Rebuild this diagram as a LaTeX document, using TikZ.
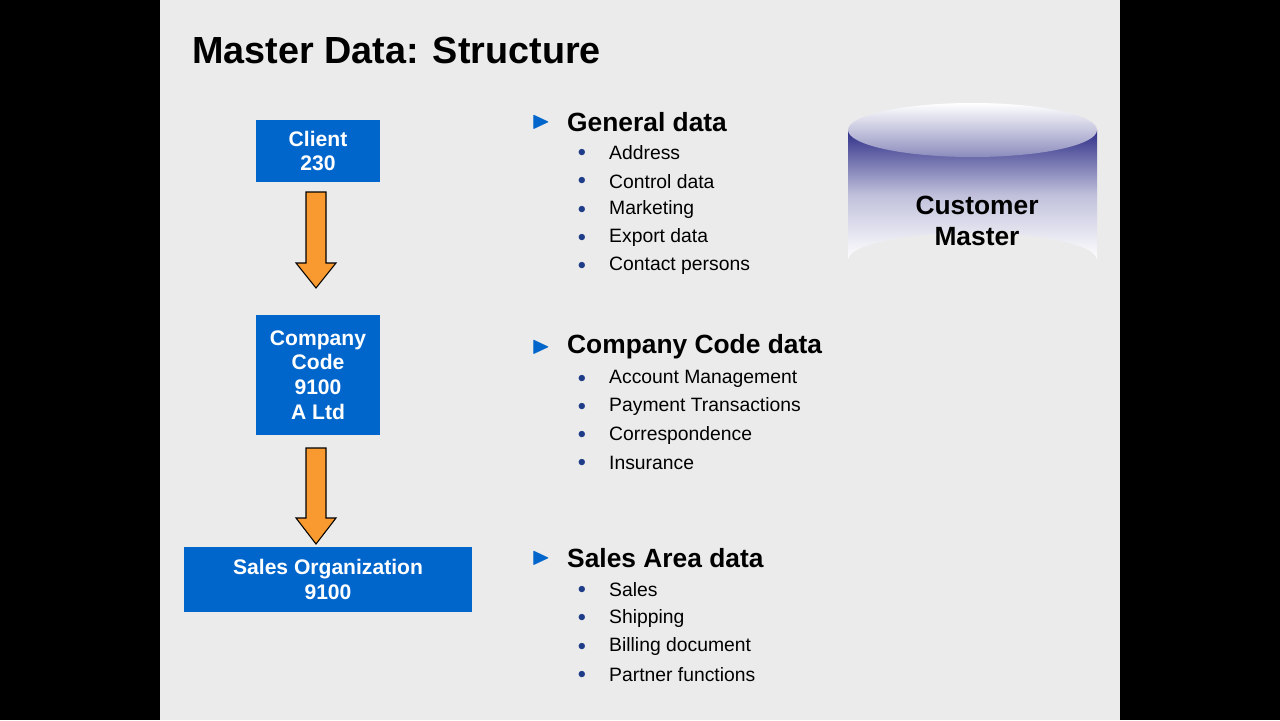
\documentclass[tikz,border=0pt]{standalone}
\usepackage{amssymb}
\usepackage{fontspec}
\setmainfont{Liberation Sans}
\usetikzlibrary{positioning}
\definecolor{slide}{HTML}{EBEBEB}
\definecolor{boxblue}{HTML}{0066CC}
\definecolor{arrorange}{HTML}{F99A30}
\definecolor{cyldark}{HTML}{2E2E88}
\definecolor{bulletblue}{HTML}{1F3C88}
\begin{document}
\begin{tikzpicture}
        [x=0.02cm, y=-0.02cm,
        org/.style = {fill=boxblue, text=white, font=\bfseries\fontsize{12}{14}\selectfont,
                      align=center, inner sep=0pt},
        down/.style = {fill=arrorange, draw=black, line width=0.6pt},
        head/.style = {anchor=west, font=\bfseries\fontsize{15}{18}\selectfont},
        item/.style = {anchor=west, font=\fontsize{11}{13}\selectfont}]
        % Background and side bars
        \fill[black] (0,0) rectangle (1280,720);
        \fill[slide] (160,0) rectangle (1120,720);
        \node[anchor=base west, font=\bfseries\fontsize{21.5}{26}\selectfont] (title) at (186,63) {Master Data: Structure};
        % Organisation levels
        \node[org, minimum width=2.48cm, minimum height=1.24cm] (client) at (318,151) {Client\\230};
        \node[org, minimum width=2.48cm, minimum height=2.4cm] (company) at (318,375) {Company\\Code\\9100\\A Ltd};
        \node[org, minimum width=5.76cm, minimum height=1.3cm] (sales) at (328,579.5) {Sales Organization\\9100};
        % Block arrows
        \draw[down] (306,192) -- (326,192) -- (326,263) -- (336,263) -- (316,288)
            -- (296,263) -- (306,263) -- cycle;
        \draw[down] (306,448) -- (326,448) -- (326,518) -- (336,518) -- (316,544)
            -- (296,518) -- (306,518) -- cycle;
        % Data groups
        \foreach \y/\txt in {122/General data, 347/Company Code data, 558/Sales Area data} {
            \node[text=boxblue, font=\fontsize{14}{14}\selectfont] at (541,\y) {$\blacktriangleright$};
            \node[head] at (561,\y) {\txt};
        }
        \foreach \txt [count=\i from 0] in {Address, Control data, Marketing, Export data, Contact persons} {
            \node[text=bulletblue, font=\small] at (582,153+28.3*\i) {$\bullet$};
            \node[item] at (603,153+28.3*\i) {\txt};
        }
        \foreach \txt [count=\i from 0] in {Account Management, Payment Transactions, Correspondence, Insurance} {
            \node[text=bulletblue, font=\small] at (582,378.5+28.3*\i) {$\bullet$};
            \node[item] at (603,378.5+28.3*\i) {\txt};
        }
        \foreach \txt [count=\i from 0] in {Sales, Shipping, Billing document, Partner functions} {
            \node[text=bulletblue, font=\small] at (582,590+28.3*\i) {$\bullet$};
            \node[item] at (603,590+28.3*\i) {\txt};
        }
        % Customer master cylinder
        \shade[top color=cyldark, bottom color=white, middle color=cyldark!30]
            (848,130) -- (848,260) arc[x radius=124.5, y radius=27, start angle=180, end angle=360]
            -- (1097,130) -- cycle;
        \shade[top color=white, bottom color=cyldark!55] (972.5,130) ellipse[x radius=124.5, y radius=27];
        \node[font=\bfseries\fontsize{15}{18}\selectfont, align=center] (cust) at (977,221) {Customer\\Master};
\end{tikzpicture}
\end{document}
